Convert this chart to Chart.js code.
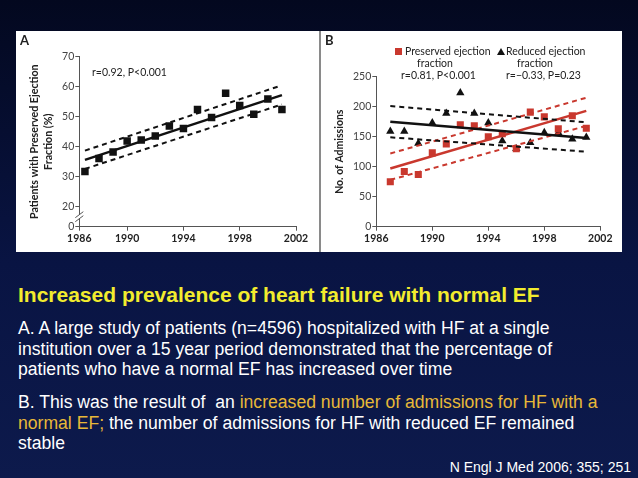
<!DOCTYPE html>
<html>
<head>
<meta charset="utf-8">
<script src="https://cdn.jsdelivr.net/npm/chart.js@4.4.0/dist/chart.umd.min.js"></script>
<style>
  body { margin: 0; width: 638px; height: 478px; overflow: hidden; position: relative;
         background: linear-gradient(#03081f 0%, #091443 55%, #0d1a4c 100%);
         font-family: "Liberation Sans", Arial, sans-serif; }
  #figure { position: absolute; left: 16px; top: 31px; width: 606px; height: 221px; background: #fff; }
  .panel { position: absolute; top: 0; height: 221px; }
  #panelA { left: 0; width: 303px; }
  #panelB { left: 305px; width: 301px; }
  #divider { position: absolute; left: 303px; top: 0; width: 2px; height: 221px; background: #8a8a8a; }
  .fig-txt { position: absolute; font-family: Lato, sans-serif; color: #222; white-space: nowrap; line-height: 1; }
  .letter { font-weight: bold; font-size: 13px; }
  .note { font-size: 10.5px; transform: translateY(-50%); }
  .mark { position: absolute; width: 7px; height: 7px; background: #c9382e; }
  .tri { position: absolute; width: 0; height: 0; border-left: 4px solid transparent; border-right: 4px solid transparent; border-bottom: 7px solid #111; }
  .slide { position: absolute; left: 18px; color: #fff; white-space: nowrap; }
  #title { top: 283px; font-weight: bold; font-size: 21px; color: #f2ec2e; }
  .body { font-size: 17.6px; line-height: 20.5px; }
  .hl { color: #e8b838; }
  #cite { position: absolute; right: 7px; top: 459px; font-size: 14px; color: #fff; }
</style>
</head>
<body>
<div id="figure">
  <div class="panel" id="panelA"><canvas id="chartA" width="303" height="221"></canvas></div>
  <div id="divider"></div>
  <div class="panel" id="panelB"><canvas id="chartB" width="301" height="221"></canvas></div>

  <div class="fig-txt letter" style="left:4px; top:3px;">A</div>
  <div class="fig-txt note" style="left:76px; top:41px;">r=0.92, P&lt;0.001</div>

  <div class="fig-txt letter" style="left:309px; top:3px;">B</div>
  <div class="mark" style="left:379px; top:17px;"></div>
  <div class="fig-txt note" style="left:389px; top:20px;">Preserved ejection</div>
  <div class="fig-txt note" style="left:401px; top:32px;">fraction</div>
  <div class="fig-txt note" style="left:385px; top:44px;">r=0.81, P&lt;0.001</div>
  <div class="tri" style="left:481px; top:17px;"></div>
  <div class="fig-txt note" style="left:490px; top:20px;">Reduced ejection</div>
  <div class="fig-txt note" style="left:501px; top:32px;">fraction</div>
  <div class="fig-txt note" style="left:490px; top:44px;">r=&minus;0.33, P=0.23</div>
</div>

<div class="slide" id="title">Increased prevalence of heart failure with normal EF</div>
<div class="slide body" style="top:318px;">A. A large study of patients (n=4596) hospitalized with HF at a single<br>institution over a 15 year period demonstrated that the percentage of<br>patients who have a normal EF has increased over time</div>
<div class="slide body" style="top:392px;">B. This was the result of&nbsp; an <span class="hl">increased number of admissions for HF with a<br>normal EF;</span> the number of admissions for HF with reduced EF remained<br>stable</div>
<div id="cite">N Engl J Med 2006; 355; 251</div>

<script>
const years = [1987, 1988, 1989, 1990, 1991, 1992, 1993, 1994, 1995, 1996, 1997, 1998, 1999, 2000, 2001];
const preservedPct = [31.7, 36.1, 38.2, 41.9, 42.2, 43.6, 46.9, 46.1, 52.4, 49.7, 57.8, 53.7, 50.8, 55.9, 52.4];
const preservedAdm = [75, 92, 87, 123, 138, 170, 168, 150, 155, 130, 191, 183, 163, 185, 164];
const reducedAdm = [159, 159, 139, 173, 189, 223, 189, 173, 143, 130, 140, 157, 157, 146, 149];

// regression lines and confidence bands (end points)
const fitYears = [1987, 2001];
const fitPct = [35.6, 57.2];
const fitPctUpperYears = [1987, 2000.7];
const fitPctUpper = [38.7, 60.0];
const fitPctLower = [32.6, 54.1];
const fitPreserved = [97, 193];
const fitPreservedUpper = [122, 215];
const fitPreservedLower = [78, 168];
const fitReduced = [175, 148];
const fitReducedUpper = [201, 174];
const fitReducedLower = [149, 125];

const xTickLabels = ['1986', '1990', '1994', '1998', '2002'];
const xTickValues = [1986, 1990, 1994, 1998, 2002];
const yTickLabelsA = ['0', '20', '30', '40', '50', '60', '70'];
const yTickValuesA = [0, 20, 30, 40, 50, 60, 70];
const yTickValuesB = [0, 50, 100, 150, 200, 250];

const RED = '#c9382e';
const BLACK = '#111';
const AXIS = '#555';
const FONT = 'Lato';

// panel A has a broken axis: "0" sits a short step below 20
const breakMin = 13.33;
const xStartA = 1986.6;

const pts = (xs, ys) => ys.map((v, i) => ({ x: xs[i], y: v }));

const fitLine = (xs, ys, color, dashed) => ({
    type: 'line', data: pts(xs, ys), borderColor: color, borderWidth: dashed ? 2 : 2.5,
    borderDash: dashed ? [5, 4] : [], pointRadius: 0, showLine: true, fill: false
});

const axisX = (min, tickValues, height) => ({
    type: 'linear', min: min, max: 2002,
    afterBuildTicks: s => { s.ticks = tickValues.map(v => ({ value: v })); },
    afterFit: s => { s.height = height; },
    ticks: { callback: (v, i) => xTickLabels[i], font: { family: FONT, size: 10.5, weight: 'bold' },
             color: '#222', padding: 2, maxRotation: 0, autoSkip: false },
    grid: { drawOnChartArea: false, tickLength: 4, color: AXIS },
    border: { color: AXIS, width: 1 }
});

const axisY = (min, max, tickValues, labels, width, title, titleSize, titlePad) => ({
    type: 'linear', min: min, max: max,
    afterBuildTicks: s => { s.ticks = tickValues.map(v => ({ value: v })); },
    afterFit: s => { s.width = width; },
    ticks: { callback: (v, i) => labels[i], font: { family: FONT, size: 10.5 }, color: '#444', padding: 1, autoSkip: false },
    grid: { drawOnChartArea: false, tickLength: 4, color: AXIS },
    border: { color: AXIS, width: 1 },
    title: { display: true, text: title, font: { family: FONT, size: titleSize, weight: 'bold', lineHeight: 1.3 },
             color: '#222', padding: { top: titlePad, bottom: 0 } }
});

const axisBreak = {
    id: 'axisBreak',
    afterDraw(chart) {
        const y = chart.scales.y, ctx = chart.ctx;
        const py = y.getPixelForValue((breakMin + 20) / 2);
        const px = chart.chartArea.left;
        ctx.save();
        ctx.fillStyle = '#fff';
        ctx.fillRect(px - 4, py - 2, 8, 4);
        ctx.strokeStyle = AXIS;
        ctx.lineWidth = 1;
        [-2, 2].forEach(d => {
            ctx.beginPath();
            ctx.moveTo(px - 4, py + d + 3);
            ctx.lineTo(px + 4, py + d - 3);
            ctx.stroke();
        });
        ctx.restore();
    }
};

const baseOpts = (padTop, padRight) => ({
    responsive: false, animation: false,
    layout: { padding: { top: padTop, right: padRight, left: 0, bottom: 0 } },
    plugins: { legend: { display: false }, tooltip: { enabled: false } }
});

new Chart(document.getElementById('chartA'), {
    type: 'scatter',
    data: {
        datasets: [
            { data: pts(years, preservedPct), pointStyle: 'rect', pointRadius: 5.3, backgroundColor: BLACK, borderWidth: 0 },
            fitLine(fitYears, fitPct, BLACK, false),
            fitLine(fitPctUpperYears, fitPctUpper, BLACK, true),
            fitLine(fitYears, fitPctLower, BLACK, true)
        ]
    },
    options: Object.assign(baseOpts(25.7, 23), {
        scales: {
            x: axisX(xStartA, [xStartA].concat(xTickValues.slice(1)), 25.3),
            y: axisY(breakMin, 70, [breakMin].concat(yTickValuesA.slice(1)), yTickLabelsA, 63.3,
                     ['Patients with Preserved Ejection', 'Fraction (%)'], 10.7, 11.5)
        }
    }),
    plugins: [axisBreak]
});

new Chart(document.getElementById('chartB'), {
    type: 'scatter',
    data: {
        datasets: [
            fitLine(fitYears, fitReducedUpper, BLACK, true),
            fitLine(fitYears, fitReducedLower, BLACK, true),
            fitLine(fitYears, fitReduced, BLACK, false),
            fitLine(fitYears, fitPreservedUpper, RED, true),
            fitLine(fitYears, fitPreservedLower, RED, true),
            fitLine(fitYears, fitPreserved, RED, false),
            { data: pts(years, preservedAdm), pointStyle: 'rect', pointRadius: 5, backgroundColor: RED, borderWidth: 0 },
            { data: pts(years, reducedAdm), pointStyle: 'triangle', pointRadius: 4.8, backgroundColor: BLACK, borderWidth: 0 }
        ]
    },
    options: Object.assign(baseOpts(45.7, 21.7), {
        scales: {
            x: axisX(1986, xTickValues, 25.3),
            y: axisY(0, 250, yTickValuesB, yTickValuesB.map(String), 55.3, 'No. of Admissions', 10.5, 12)
        }
    })
});
</script>
</body>
</html>
